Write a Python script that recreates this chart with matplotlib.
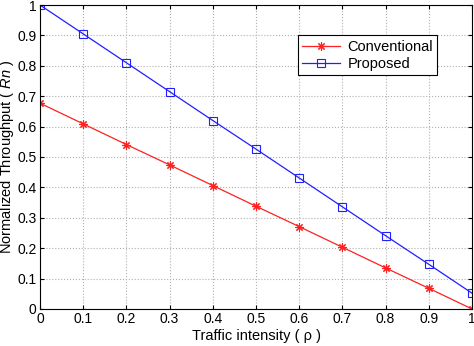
import matplotlib
matplotlib.use("Agg")
import matplotlib.pyplot as plt

plt.rcParams['font.family'] = ['Liberation Sans', 'DejaVu Sans']
plt.rcParams['mathtext.fontset'] = 'custom'
plt.rcParams['mathtext.rm'] = 'Liberation Sans'
plt.rcParams['mathtext.it'] = 'Liberation Sans:italic'

# data
traffic = [0.0, 0.1, 0.2, 0.3, 0.4, 0.5, 0.6, 0.7, 0.8, 0.9, 1.0]
conventional = [0.677, 0.609, 0.541, 0.474, 0.406, 0.338, 0.271, 0.203, 0.135, 0.068, 0.0]
proposed = [1.0, 0.905, 0.81, 0.715, 0.62, 0.526, 0.431, 0.336, 0.241, 0.147, 0.052]
ticks = [0, 0.1, 0.2, 0.3, 0.4, 0.5, 0.6, 0.7, 0.8, 0.9, 1]
tick_labels = ['0', '0.1', '0.2', '0.3', '0.4', '0.5', '0.6', '0.7', '0.8', '0.9', '1']

fig = plt.figure(figsize=(4.74, 3.46), dpi=100)
ax = fig.add_axes([0.0844, 0.107, 0.9114, 0.8785])

ax.plot(traffic, conventional, color='#ff2020', marker=(8, 2, 0), markersize=6,
        markeredgewidth=0.8, linewidth=0.9, label='Conventional')
ax.plot(traffic, proposed, color='#2020ff', marker='s', markersize=5.5,
        markerfacecolor='none', markeredgewidth=0.8, linewidth=0.9, label='Proposed')

ax.set_xlim(0, 1)
ax.set_ylim(0, 1)
ax.set_xticks(ticks)
ax.set_xticklabels(tick_labels)
ax.set_yticks(ticks)
ax.set_yticklabels(tick_labels)
ax.tick_params(direction='in', top=True, right=True, labelsize=10, length=3, pad=2.5)
ax.grid(True, linestyle=':', color='#b0b0b0', linewidth=0.8)
for s in ax.spines.values():
    s.set_linewidth(0.8)

ax.set_xlabel('Traffic intensity ( ρ )', fontsize=10.5, labelpad=2)
ax.set_ylabel('Normalized Throughput ( $\\mathit{Rn}$ )', fontsize=10.5, labelpad=1)

leg = ax.legend(loc='upper right', bbox_to_anchor=(0.92, 0.9), fontsize=10.5,
                fancybox=False, framealpha=1, edgecolor='black',
                handlelength=2.6, borderpad=0.3, labelspacing=0.2,
                handletextpad=0.5, borderaxespad=0)
leg.get_frame().set_linewidth(0.8)

plt.savefig('out.png', dpi=100)
